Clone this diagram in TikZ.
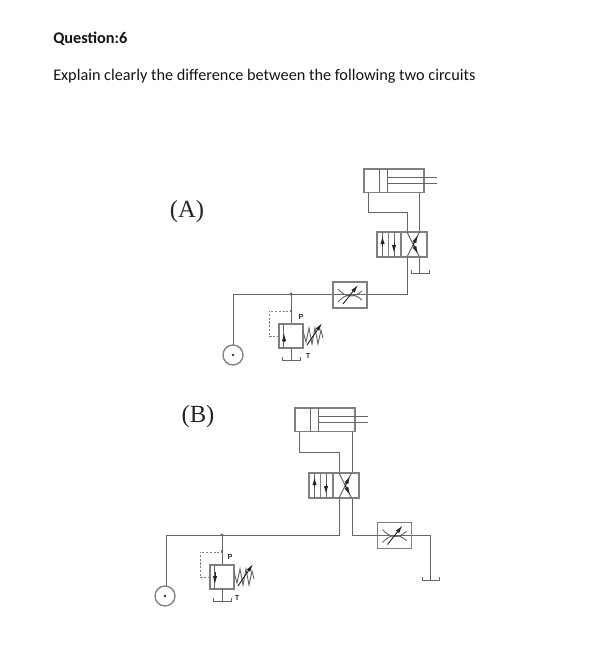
\documentclass[tikz,border=0pt]{standalone}
\usepackage{fontspec}
\setmainfont{Carlito}
\newfontfamily\labelfont{Liberation Serif}
\newfontfamily\portfont{Liberation Sans}
\usetikzlibrary{arrows.meta}
\definecolor{ln}{gray}{0.4}
\definecolor{lnbox}{gray}{0.5}
\tikzset{
  x=0.75pt,y=-0.75pt,
  hyd/.style={draw=ln,line width=0.7pt},
  box/.style={draw=lnbox,line width=0.8pt},
  pilot/.style={draw=lnbox,line width=0.75pt,dash pattern=on 1.6pt off 1.2pt},
  flowtip/.style={draw=black!85,line width=0.7pt,-{Latex[length=6pt,width=3.2pt]}},
  qtext/.style={anchor=west,inner sep=0pt,font=\fontsize{12.2pt}{14pt}\selectfont,text=black!92},
  circ/.style={circle,draw=lnbox,line width=1pt,fill=white,minimum size=15pt,inner sep=0pt},
  dot/.style={circle,fill=black!80,minimum size=2.2pt,inner sep=0pt},
  letter/.style={font=\labelfont\fontsize{18.5pt}{20pt}\selectfont,text=black!85,inner sep=0pt},
  port/.style={font=\portfont\bfseries\fontsize{5.5pt}{6pt}\selectfont,text=black!80,inner sep=0pt}
}
% cylinder: top-left corner (#1,#2)
\newcommand{\cylpic}[2]{
  \draw[box] (#1,#2) rectangle ++(60,23.5);
  \draw[hyd] (#1+15,#2) -- ++(0,23.5) (#1+23,#2) -- ++(0,23.5);
  \draw[hyd] (#1+23,#2+8) -- ++(50,0) (#1+23,#2+14.5) -- ++(50,0);
}
% valve: top-left corner (#1,#2)
\newcommand{\valvepic}[2]{
  \draw[box] (#1,#2) rectangle ++(50,25);
  \draw[box] (#1+11.5,#2) -- ++(0,25) (#1+24,#2) -- ++(0,25);
  \draw[hyd] (#1+5.5,#2) -- ++(0,25) (#1+17,#2) -- ++(0,25);
  \draw[flowtip] (#1+5.5,#2+14) -- (#1+5.5,#2+4);
  \draw[flowtip] (#1+17,#2+11) -- (#1+17,#2+21);
  \draw[hyd] (#1+30,#2) -- (#1+42.5,#2+25) (#1+42.5,#2) -- (#1+30,#2+25);
  \draw[flowtip] (#1+36.25,#2+12.5) -- (#1+41,#2+3);
  \draw[flowtip] (#1+36.25,#2+12.5) -- (#1+41,#2+22);
}
% flow control: centre (#1,#2)
\newcommand{\flowpic}[2]{
  \draw[box] (#1-17,#2-13) rectangle (#1+17,#2+13);
  \draw[hyd] (#1-12,#2-6) .. controls (#1-4,#2+3) and (#1+4,#2+3) .. (#1+12,#2-4);
  \draw[hyd] (#1-12,#2+7) .. controls (#1-4,#2-2) and (#1+4,#2-2) .. (#1+12,#2+5);
  \draw[flowtip] (#1-7,#2+9) -- (#1+8,#2-10);
}
% relief valve: block top-left (#1,#2), arrow from y #3 to y #4 relative to block
\newcommand{\reliefpic}[4]{
  \draw[box] (#1,#2) rectangle ++(24,24);
  \draw[hyd] (#1+4,#2) -- ++(0,24);
  \draw[flowtip] (#1+5,#2+#3) -- (#1+5,#2+#4);
  \draw[pilot] (#1,#2+12) -- ++(-10,0) -- ++(0,-25) -- ++(22,0);
  \draw[hyd] (#1+24,#2+7) -- ++(3,11) -- ++(3,-14) -- ++(3,16) -- ++(3,-16) -- ++(3,16) -- ++(3,-14) -- ++(2,8);
  \draw[flowtip] (#1+28,#2+21) -- (#1+43,#2-1);
  \draw[hyd] (#1+12,#2+24) -- ++(0,12);
  \draw[hyd] (#1+3,#2+33) -- ++(0,3) -- ++(18,0) -- ++(0,-3);
}
\begin{document}
\begin{tikzpicture}
\useasboundingbox (0,0) rectangle (611,657);
\fill[white] (0,0) rectangle (611,657);
\node[qtext,font=\bfseries\fontsize{12.2pt}{14pt}\selectfont] (q) at (53,39) {Question:6};
\node[qtext] (e) at (53,76) {Explain clearly the difference between the following two circuits};
\node[letter] (la) at (187,212) {(A)};
\node[letter] (lb) at (198,417) {(B)};

% ---------- circuit A
\draw[hyd] (368,192) -- (368,212) -- (407,212) -- (407,232);
\draw[hyd] (419,192) -- (419,232);
\draw[hyd] (407,257) -- (407,294) -- (233,294) -- (233,345);
\draw[hyd] (419,257) -- (419,273);
\draw[hyd] (411,270) -- (411,273) -- (429,273) -- (429,270);
\draw[hyd] (291,294) -- (291,324);
\fill[ln] (291,294) circle (1.3pt);
\fill[ln] (291,311) circle (1.1pt);
\cylpic{364}{169}
\valvepic{377}{232}
\flowpic{350}{295}
\reliefpic{279}{324}{18}{9}
\node[circ] (pa) at (233,355) {};
\node[dot] at (pa) {};
\node[port] (pp) at (301,317) {P};
\node[port] (pt) at (308,356) {T};

% ---------- circuit B
\draw[hyd] (299,432) -- (299,452) -- (339,452) -- (339,473);
\draw[hyd] (352,432) -- (352,473);
\draw[hyd] (339,498) -- (339,535) -- (166,535) -- (166,586);
\draw[hyd] (352,498) -- (352,535) -- (430,535) -- (430,580);
\draw[hyd] (422,577) -- (422,580) -- (439,580) -- (439,577);
\draw[hyd] (222,535) -- (222,565);
\fill[ln] (222,535) circle (1.3pt);
\fill[ln] (222,551) circle (1.1pt);
\cylpic{295}{408}
\valvepic{309}{473}
\flowpic{394.5}{535.5}
\reliefpic{210}{565}{7}{19}
\node[circ] (pb) at (165,596) {};
\node[dot] at (pb) {};
\node[port] (qp) at (230,557) {P};
\node[port] (qt) at (237,598) {T};
\end{tikzpicture}
\end{document}
